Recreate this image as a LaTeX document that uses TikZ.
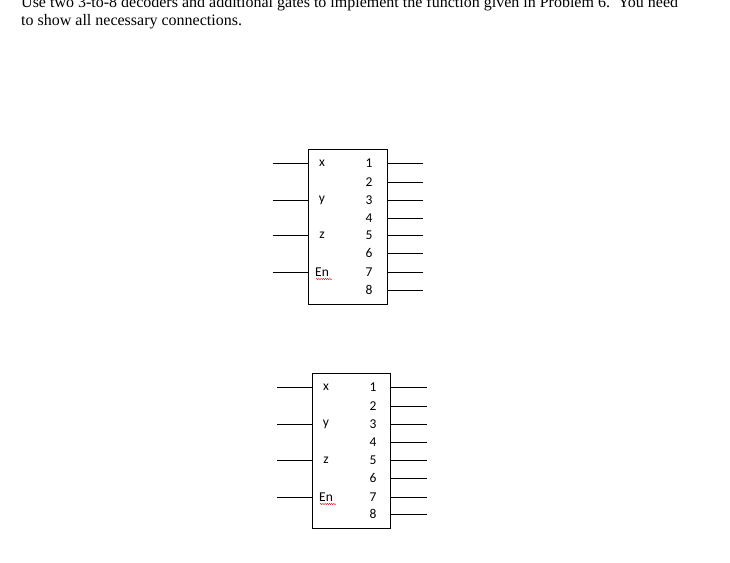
\documentclass[tikz,border=0pt]{standalone}
\usepackage{fontspec}
\setmainfont{Liberation Serif}
\newfontfamily\lab{Carlito}
\usetikzlibrary{decorations.pathmorphing}
\begin{document}
\begin{tikzpicture}[x=1pt,y=-1pt,
  wire/.style={line width=0.9pt},
  boxst/.style={draw,line width=0.9pt},
  lbl/.style={font=\lab\fontsize{13.5}{13.5}\selectfont,inner sep=0pt},
  squig/.style={red!80!black,line width=0.4pt,decorate,decoration={snake,amplitude=0.6pt,segment length=2.2pt}}]
\useasboundingbox (0,0) rectangle (730,562);
\node[anchor=north west,align=left,inner sep=0pt,font=\fontsize{16}{18.5}\selectfont] (title) at (21,-4)
 {Use two 3-to-8 decoders and additional gates to implement the function given in Problem 6.\ \ You need\\to show all necessary connections.};
\foreach \n/\L/\R/\T/\B in {a/308/387/149/304, b/312/390/373/528}{
  \draw[boxst] (\L,\T) rectangle (\R,\B);
  \path (\L,\T) coordinate (\n tl);
}
% top decoder
\foreach \y/\t [count=\i] in {163/x,200/y,235/z,272/En}{
  \node[lbl] (ain\i) at (322,\y) {\t};
  \coordinate (ail\i) at (273,\y); \coordinate (aib\i) at (308,\y);
  \draw[wire] (ail\i) -- (aib\i);
}
\foreach \y [count=\i] in {163,182,200,218,235,253,272,290}{
  \node[lbl] (aout\i) at (369,\y) {\i};
  \coordinate (aob\i) at (387,\y); \coordinate (aoe\i) at (423,\y);
  \draw[wire] (aob\i) -- (aoe\i);
}
\draw[squig] (316,279) -- (332,279);
% bottom decoder
\foreach \y/\t [count=\i] in {387/x,424/y,460/z,497/En}{
  \node[lbl] (bin\i) at (326,\y) {\t};
  \coordinate (bil\i) at (277,\y); \coordinate (bib\i) at (312,\y);
  \draw[wire] (bil\i) -- (bib\i);
}
\foreach \y [count=\i] in {387,406,424,442,460,478,497,514}{
  \node[lbl] (bout\i) at (373,\y) {\i};
  \coordinate (bob\i) at (390,\y); \coordinate (boe\i) at (427,\y);
  \draw[wire] (bob\i) -- (boe\i);
}
\draw[squig] (320,504) -- (336,504);
\end{tikzpicture}
\end{document}
